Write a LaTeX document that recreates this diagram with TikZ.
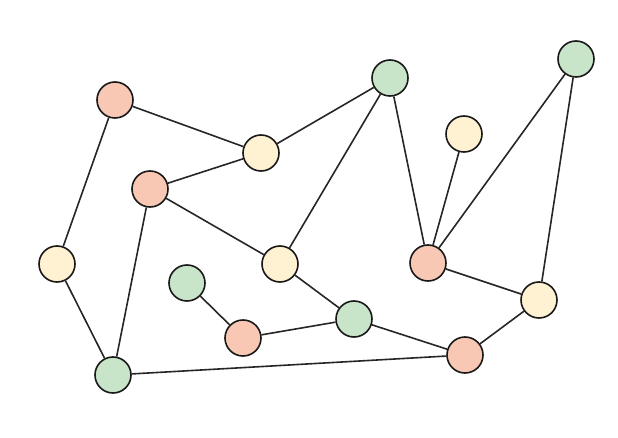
\documentclass[tikz,border=0pt]{standalone}
\definecolor{cr}{HTML}{F8C8B4}
\definecolor{cy}{HTML}{FFF2D2}
\definecolor{cg}{HTML}{C9E5C9}
\begin{document}
\begin{tikzpicture}[x=1pt,y=-1pt,
 v/.style={circle,draw=black!90,line width=1.6pt,minimum size=36pt,inner sep=0pt},
 r/.style={v,fill=cr},
 yl/.style={v,fill=cy},
 g/.style={v,fill=cg},
 e/.style={line width=1.6pt,draw=black!85}]
\useasboundingbox (0,0) rectangle (618,438);
\node[r] (A) at (115,100) {};
\node[yl] (B) at (261,153) {};
\node[g] (C) at (390,78) {};
\node[g] (D) at (576,59) {};
\node[yl] (E) at (464,134) {};
\node[r] (F) at (150,189) {};
\node[yl] (G) at (57,264) {};
\node[yl] (H) at (280,264) {};
\node[r] (I) at (428,263) {};
\node[g] (J) at (187,283) {};
\node[r] (K) at (243,338) {};
\node[g] (L) at (354,319) {};
\node[yl] (M) at (539,300) {};
\node[r] (N) at (465,355) {};
\node[g] (O) at (113,375) {};
\foreach \a/\b in {A/B,A/G,B/C,B/F,C/H,C/I,F/O,F/H,G/O,H/L,E/I,D/I,D/M,I/M,J/K,K/L,L/N,N/M,O/N}
 \draw[e] (\a) -- (\b);
\end{tikzpicture}
\end{document}
